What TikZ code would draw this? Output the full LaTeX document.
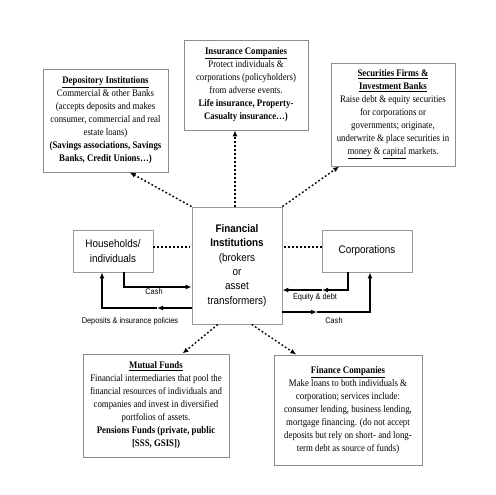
\documentclass[tikz,border=0pt]{standalone}
\usepackage{fontspec}
\setmainfont{Liberation Serif}[FakeStretch=0.88]
\newfontfamily\sansx{Liberation Sans}[FakeStretch=0.9]
\usetikzlibrary{arrows.meta}
\begin{document}
\begin{tikzpicture}[x=1pt,y=-1pt,
  infobox/.style={draw=black!45,line width=0.9pt,align=center,inner sep=2pt,
    font=\fontsize{10}{13}\selectfont},
  sidebox/.style={draw=black!40,line width=0.9pt,align=center,inner sep=2pt,
    font=\sansx\fontsize{11}{14.3}\selectfont},
  lbl/.style={font=\sansx\fontsize{8.2}{9}\selectfont,inner sep=0pt},
  arr/.style={line width=1.2pt,-{Latex[length=6pt,width=5pt]}},
  plain/.style={line width=1.2pt},
  dotarr/.style={line width=1.4pt,dash pattern=on 1.8pt off 2.2pt,-{Latex[length=6pt,width=5pt]}},
  dotline/.style={line width=1.4pt,dash pattern=on 1.8pt off 2.2pt}]
\useasboundingbox (0,0) rectangle (495,495);
\fill[white] (0,0) rectangle (495,495);

\node[infobox,minimum width=125pt,minimum height=103pt] (dep) at (105.5,120.5) {%
\underline{\textbf{Depository Institutions}}\\
Commercial \& other Banks\\
(accepts deposits and makes\\
consumer, commercial and real\\
estate loans)\\
\textbf{(Savings associations, Savings}\\
\textbf{Banks, Credit Unions…)}};

\node[infobox,minimum width=124pt,minimum height=90pt] (ins) at (246,85) {%
\underline{\textbf{Insurance Companies}}\\
Protect individuals \&\\
corporations (policyholders)\\
from adverse events.\\
\textbf{Life insurance, Property-}\\
\textbf{Casualty insurance…)}};

\node[infobox,minimum width=124pt,minimum height=103pt] (sec) at (393,114.5) {%
\underline{\textbf{Securities Firms \&}}\\
\underline{\textbf{Investment Banks}}\\
Raise debt \& equity securities\\
for corporations or\\
governments; originate,\\
underwrite \& place securities in\\
\underline{money} \& \underline{capital} markets.};

\node[sidebox,minimum width=90pt,minimum height=117pt] (fi) at (237,265.5) {%
\textbf{Financial}\\
\textbf{Institutions}\\
(brokers\\
or\\
asset\\
transformers)};

\node[sidebox,minimum width=80pt,minimum height=42pt] (hh) at (113,251) {Households/\\individuals};
\node[sidebox,minimum width=90pt,minimum height=42pt] (corp) at (367,251) {Corporations};

\node[infobox,minimum width=146pt,minimum height=103pt] (mf) at (156,405.5) {%
\underline{\textbf{Mutual Funds}}\\
Financial intermediaries that pool the\\
financial resources of individuals and\\
companies and invest in diversified\\
portfolios of assets.\\
\textbf{Pensions Funds (private, public}\\
\textbf{[SSS, GSIS])}};

\node[infobox,minimum width=148pt,minimum height=110pt] (fc) at (348,410) {%
\underline{\textbf{Finance Companies}}\\
Make loans to both individuals \&\\
corporation; services include:\\
consumer lending, business lending,\\
mortgage financing. (do not accept\\
deposits but rely on short- and long-\\
term debt as source of funds)};

% dotted connectors
\draw[dotarr] (fi.north west) -- (dep.-65);
\draw[dotarr] ([xshift=-2pt]fi.north) -- ([xshift=-2pt]fi.north |- ins.south);
\draw[dotarr] (fi.north east) -- (sec.-136);
\draw[dotarr] (fi.-108) -- (mf.63);
\draw[dotarr] (fi.-76) -- (fc.133);
\draw[dotline] ([yshift=4pt]hh.east) -- ([yshift=4pt,xshift=-2pt]fi.west |- hh.east);
\draw[dotline] ([yshift=4pt,xshift=2pt]fi.east |- corp.west) -- ([yshift=4pt]corp.west);

% solid flows
\coordinate (c1) at (124,287);
\coordinate (d1) at (102,308);
\coordinate (dm) at (157,308);
\coordinate (e1) at (348,290);
\coordinate (em) at (322,290);
\coordinate (k1) at (370,312);
\coordinate (km) at (317,312);

\draw[arr] (hh.south -| c1) -- (c1) -- (fi.west |- c1);
\draw[arr] (fi.west |- d1) -- (dm);
\draw[arr] (dm) -- (d1) -- (hh.south -| d1);
\draw[arr] (corp.south -| e1) -- (e1) -- (em);
\draw[arr] (em) -- (fi.east |- e1);
\draw[arr] (fi.east |- k1) -- (km);
\draw[arr] (km) -- (k1) -- (corp.south -| k1);

\node[lbl] (lc1) at (154,292) {Cash};
\node[lbl] (ldep) at (130,321) {Deposits \& insurance policies};
\node[lbl] (leq) at (315,297) {Equity \& debt};
\node[lbl] (lc2) at (334,321) {Cash};
\end{tikzpicture}
\end{document}
